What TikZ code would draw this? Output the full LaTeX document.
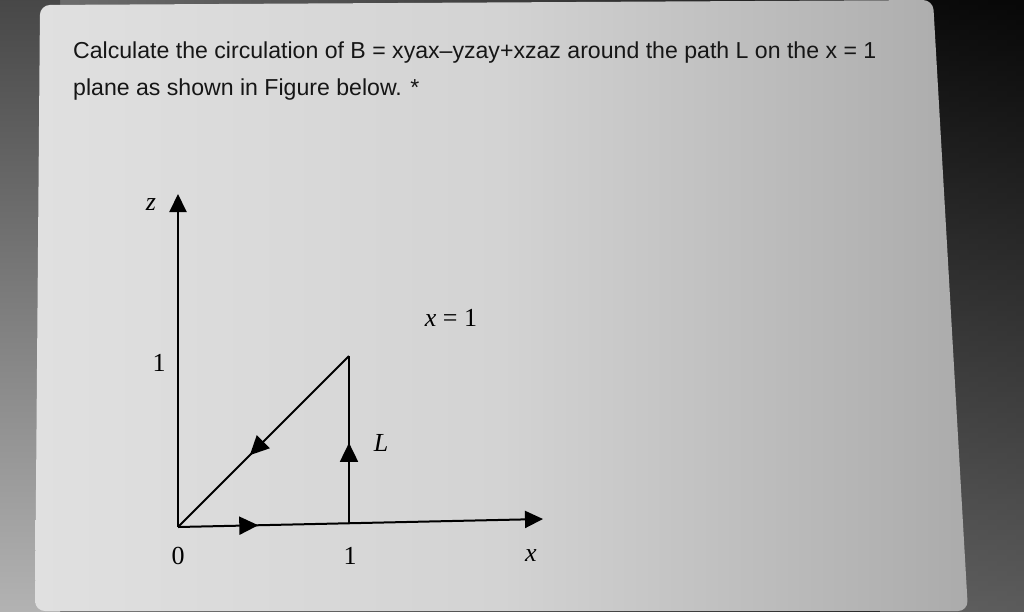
\documentclass[tikz,border=0pt]{standalone}
\usepackage{fontspec}
\setmainfont{Liberation Serif}
\setsansfont{Liberation Sans}
\usetikzlibrary{arrows.meta,decorations.markings}
\definecolor{cardL}{HTML}{E0E0E0}
\definecolor{cardM}{HTML}{D3D3D3}
\definecolor{cardR}{HTML}{ABABAB}
\definecolor{ink}{HTML}{161616}
\tikzset{
  axis/.style={line width=2pt, draw=black, -{Triangle[length=18pt,width=17pt]}},
  seg/.style={line width=1.8pt, draw=black},
  midarrow/.style={postaction={decorate}, decoration={markings, mark=at position #1 with {\arrow{Triangle[length=19pt,width=18pt]}}}},
  lbl/.style={font=\fontsize{26}{28}\selectfont\rmfamily, text=black, inner sep=0pt},
  title/.style={font=\fontsize{23.1}{26}\selectfont\sffamily, text=ink, inner sep=0pt, anchor=base west},
}
\begin{document}
\begin{tikzpicture}[x=1pt,y=-1pt]
\useasboundingbox (0,0) rectangle (1024,611);
% backgrounds
\shade[left color=black!55, right color=black!97] (0,0) rectangle (1024,611);
\shade[top color=black!72, bottom color=black!30] (0,0) rectangle (60,611);
\shade[top color=black!97, bottom color=black!50, opacity=0.7] (880,0) rectangle (1024,611);
% card
\shade[left color=cardL, right color=cardR, middle color=cardM, rounded corners=10pt]
  (40,5) -- (933,0) -- (968,611) -- (35,611) -- cycle;
% title
\node[title] (t1) at (73,58) {Calculate the circulation of B = xyax\textendash yzay+xzaz around the path L on the x = 1};
\node[title] (t2) at (73,95) {plane as shown in Figure below. *};
% coordinates
\coordinate (O) at (178,527);
\coordinate (A) at (349,523);
\coordinate (B) at (349,356);
\coordinate (Z) at (178,194);
\coordinate (X) at (543,519);
% axes
\draw[axis, midarrow=0.22] (O) -- (X);
\draw[axis] (O) -- (Z);
% path L
\draw[seg, midarrow=0.48] (A) -- (B);
\draw[seg, midarrow=0.58] (B) -- (O);
% labels
\node[lbl] (lz) at (151,205) {\textit{z}};
\node[lbl] (l1z) at (159,363) {1};
\node[lbl] (lx1) at (451,318) {\textit{x} = 1};
\node[lbl] (lL) at (381,443) {\textit{L}};
\node[lbl] (l0) at (178,556) {0};
\node[lbl] (l1x) at (350,556) {1};
\node[lbl] (lx) at (531,556) {\textit{x}};
\end{tikzpicture}
\end{document}
